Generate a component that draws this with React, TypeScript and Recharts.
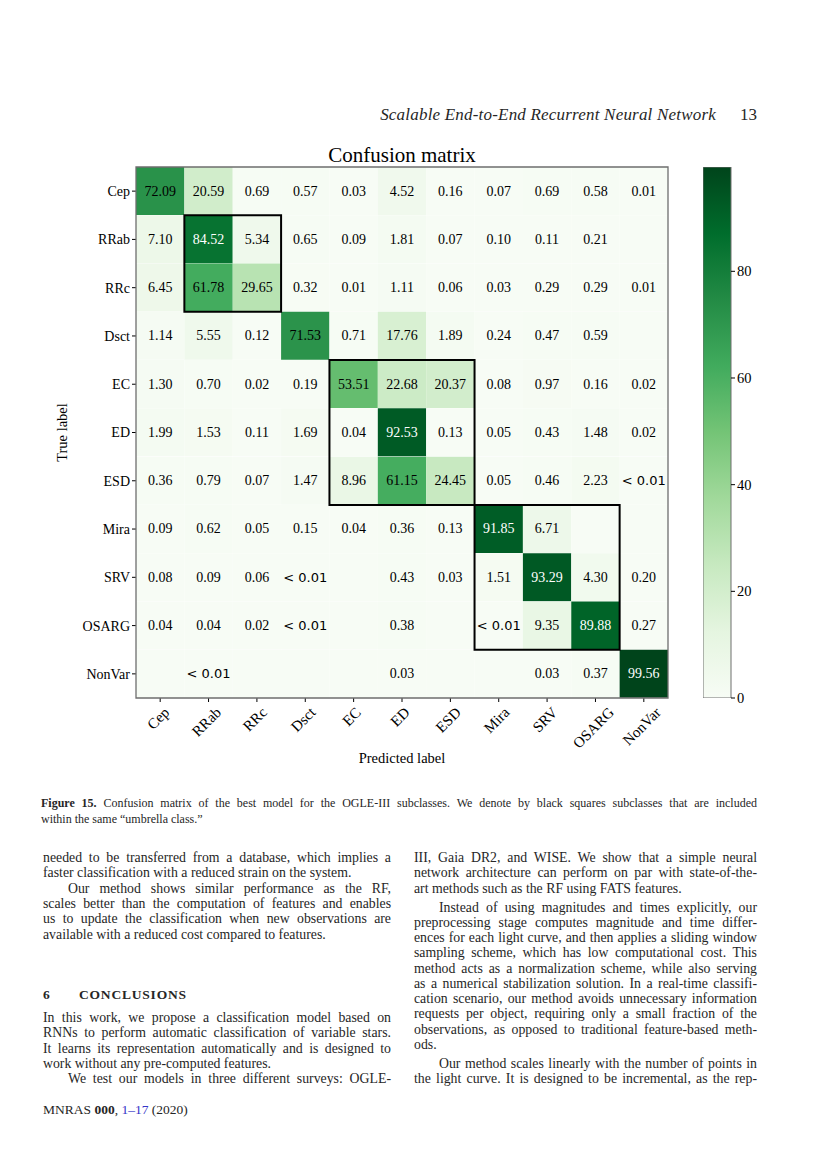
import React from 'react';
import { BarChart, Bar, XAxis, YAxis, Cell, LabelList, ReferenceArea } from 'recharts';

// ---------- data ----------
const trueLabels = ['Cep', 'RRab', 'RRc', 'Dsct', 'EC', 'ED', 'ESD', 'Mira', 'SRV', 'OSARG', 'NonVar'];
const predictedLabels = ['Cep', 'RRab', 'RRc', 'Dsct', 'EC', 'ED', 'ESD', 'Mira', 'SRV', 'OSARG', 'NonVar'];

const LT = 0.004; // shown as "< 0.01"
const rowCep = [72.09, 20.59, 0.69, 0.57, 0.03, 4.52, 0.16, 0.07, 0.69, 0.58, 0.01];
const rowRRab = [7.1, 84.52, 5.34, 0.65, 0.09, 1.81, 0.07, 0.1, 0.11, 0.21, null];
const rowRRc = [6.45, 61.78, 29.65, 0.32, 0.01, 1.11, 0.06, 0.03, 0.29, 0.29, 0.01];
const rowDsct = [1.14, 5.55, 0.12, 71.53, 0.71, 17.76, 1.89, 0.24, 0.47, 0.59, null];
const rowEC = [1.3, 0.7, 0.02, 0.19, 53.51, 22.68, 20.37, 0.08, 0.97, 0.16, 0.02];
const rowED = [1.99, 1.53, 0.11, 1.69, 0.04, 92.53, 0.13, 0.05, 0.43, 1.48, 0.02];
const rowESD = [0.36, 0.79, 0.07, 1.47, 8.96, 61.15, 24.45, 0.05, 0.46, 2.23, LT];
const rowMira = [0.09, 0.62, 0.05, 0.15, 0.04, 0.36, 0.13, 91.85, 6.71, null, null];
const rowSRV = [0.08, 0.09, 0.06, LT, null, 0.43, 0.03, 1.51, 93.29, 4.3, 0.2];
const rowOSARG = [0.04, 0.04, 0.02, LT, null, 0.38, null, LT, 9.35, 89.88, 0.27];
const rowNonVar = [null, LT, null, null, null, 0.03, null, null, 0.03, 0.37, 99.56];
const matrixRows: (number | null)[][] = [rowCep, rowRRab, rowRRc, rowDsct, rowEC, rowED, rowESD, rowMira, rowSRV, rowOSARG, rowNonVar];

const umbrellaClasses = [['RRab', 'RRc'], ['EC', 'ED', 'ESD'], ['Mira', 'SRV', 'OSARG']];
const colorbarTicks = [0, 20, 40, 60, 80];
const colorMin = 0;
const colorMax = 99.56;
const whiteTextAbove = 80;

const greensStops = ['#f7fcf5', '#e5f5e0', '#c7e9c0', '#a1d99b', '#74c476', '#41ab5d', '#238b45', '#006d2c', '#00441b'];

// ---------- helpers ----------
const SERIF = '"Liberation Serif", "Times New Roman", serif';

function hexToRgb(h: string) {
  return [parseInt(h.slice(1, 3), 16), parseInt(h.slice(3, 5), 16), parseInt(h.slice(5, 7), 16)];
}
function greens(v: number | null) {
  const val = v == null ? colorMin : v;
  let t = (val - colorMin) / (colorMax - colorMin);
  t = Math.max(0, Math.min(1, t));
  const p = t * (greensStops.length - 1);
  const i = Math.min(greensStops.length - 2, Math.floor(p));
  const f = p - i;
  const a = hexToRgb(greensStops[i]);
  const b = hexToRgb(greensStops[i + 1]);
  const c = a.map((x, k) => Math.round(x + (b[k] - x) * f));
  return `rgb(${c[0]},${c[1]},${c[2]})`;
}

const chartData = trueLabels.map((name, i) => {
  const row: any = { name };
  predictedLabels.forEach((_, j) => {
    row['c' + j] = 1;
    row['v' + j] = matrixRows[i][j];
  });
  return row;
});

let measureCtx: any = null;
function measure(text: string, font: string) {
  if (!measureCtx) measureCtx = document.createElement('canvas').getContext('2d');
  measureCtx.font = font;
  return measureCtx.measureText(text).width;
}

const CellLabel = (props: any) => {
  const { x, y, width, height, value } = props;
  if (value === null || value === undefined || value === '') return null;
  const v = Number(value);
  const cx = Number(x) + Number(width) / 2;
  const cy = Number(y) + Number(height) / 2;
  const small = v < 0.01;
  return (
    <text
      x={cx}
      y={cy}
      textAnchor="middle"
      dominantBaseline="central"
      fill={v > whiteTextAbove ? '#ffffff' : '#000000'}
      style={{ fontFamily: small ? '"DejaVu Sans", sans-serif' : SERIF, fontSize: small ? 13 : 14 }}
    >
      {small ? '< 0.01' : v.toFixed(2)}
    </text>
  );
};

const XTick = (props: any) => {
  const { x, y, payload } = props;
  const idx = Math.floor(Number(payload.value));
  const label = predictedLabels[idx];
  if (!label) return null;
  const fs = 15;
  const w = measure(label, `${fs}px "Liberation Serif"`);
  const h = fs * 0.72;
  const half = (w + h) / (2 * Math.SQRT2);
  const cx = x - 2;
  const cy = y + 2 + half;
  return (
    <text
      x={cx}
      y={cy}
      textAnchor="middle"
      dominantBaseline="central"
      transform={`rotate(-45 ${cx} ${cy})`}
      fill="#000"
      style={{ fontFamily: SERIF, fontSize: fs }}
    >
      {label}
    </text>
  );
};

// ---------- page text ----------
type Ln = { t: React.ReactNode; y: number; j?: boolean; ind?: boolean };

const leftLines: Ln[] = [
  { t: 'needed to be transferred from a database, which implies a', y: 859, j: true },
  { t: 'faster classification with a reduced strain on the system.', y: 874 },
  { t: 'Our method shows similar performance as the RF,', y: 890, j: true, ind: true },
  { t: 'scales better than the computation of features and enables', y: 905, j: true },
  { t: 'us to update the classification when new observations are', y: 920, j: true },
  { t: 'available with a reduced cost compared to features.', y: 936 },
  { t: 'In this work, we propose a classification model based on', y: 1019, j: true },
  { t: 'RNNs to perform automatic classification of variable stars.', y: 1034, j: true },
  { t: 'It learns its representation automatically and is designed to', y: 1050, j: true },
  { t: 'work without any pre-computed features.', y: 1065 },
  { t: 'We test our models in three different surveys: OGLE-', y: 1080, j: true, ind: true },
];

const rightLines: Ln[] = [
  { t: 'III, Gaia DR2, and WISE. We show that a simple neural', y: 859, j: true },
  { t: 'network architecture can perform on par with state-of-the-', y: 874, j: true },
  { t: 'art methods such as the RF using FATS features.', y: 890 },
  { t: 'Instead of using magnitudes and times explicitly, our', y: 909, j: true, ind: true },
  { t: 'preprocessing stage computes magnitude and time differ-', y: 924, j: true },
  { t: 'ences for each light curve, and then applies a sliding window', y: 939, j: true },
  { t: 'sampling scheme, which has low computational cost. This', y: 954, j: true },
  { t: 'method acts as a normalization scheme, while also serving', y: 970, j: true },
  { t: 'as a numerical stabilization solution. In a real-time classifi-', y: 985, j: true },
  { t: 'cation scenario, our method avoids unnecessary information', y: 1000, j: true },
  { t: 'requests per object, requiring only a small fraction of the', y: 1015, j: true },
  { t: 'observations, as opposed to traditional feature-based meth-', y: 1031, j: true },
  { t: 'ods.', y: 1046 },
  { t: 'Our method scales linearly with the number of points in', y: 1065, j: true, ind: true },
  { t: 'the light curve. It is designed to be incremental, as the rep-', y: 1080, j: true },
];

const TEXT_COLOR = '#262626';

function Column({ lines, left, width, size }: { lines: Ln[]; left: number; width: number; size: number }) {
  return (
    <>
      {lines.map((l, i) => {
        const ind = l.ind ? 25 : 0;
        return (
          <div
            key={i}
            style={{
              position: 'absolute',
              left: left + ind,
              top: l.y - 10,
              width: width - ind,
              height: 18,
              lineHeight: '18px',
              fontSize: size,
              fontFamily: SERIF,
              color: TEXT_COLOR,
              whiteSpace: 'nowrap',
              textAlign: l.j ? 'justify' : 'left',
              textAlignLast: l.j ? 'justify' : 'left',
            } as any}
          >
            {l.t}
          </div>
        );
      })}
    </>
  );
}

export default function App() {
  const nCols = predictedLabels.length;
  return (
    <div style={{ position: 'absolute', left: 0, top: 0, width: 827, height: 1169, background: '#fff', overflow: 'hidden', fontFamily: SERIF }}>
      {/* running header */}
      <div style={{ position: 'absolute', left: 300, top: 104, width: 416, textAlign: 'right', fontSize: 17, lineHeight: '22px', fontStyle: 'italic', letterSpacing: 0.2, color: TEXT_COLOR }}>
        Scalable End-to-End Recurrent Neural Network
      </div>
      <div style={{ position: 'absolute', left: 700, top: 104, width: 57, textAlign: 'right', fontSize: 17, lineHeight: '22px', color: TEXT_COLOR }}>13</div>

      {/* title */}
      <div style={{ position: 'absolute', left: 136, top: 142, width: 532, textAlign: 'center', fontSize: 21, lineHeight: '26px', color: '#000' }}>
        Confusion matrix
      </div>

      {/* confusion matrix */}
      <div style={{ position: 'absolute', left: 40, top: 140 }}>
        <BarChart
          width={640}
          height={628}
          data={chartData}
          layout="vertical"
          barCategoryGap={0}
          barGap={0}
          margin={{ top: 27, right: 12, bottom: 0, left: 0 }}
        >
          <XAxis
            type="number"
            domain={[0, nCols]}
            ticks={predictedLabels.map((_, j) => j + 0.5)}
            interval={0}
            allowDataOverflow
            tick={<XTick />}
            tickSize={4}
            tickLine={{ stroke: '#000' }}
            axisLine={false}
            height={70}
            label={{ value: 'Predicted label', position: 'insideBottom', offset: 5, fill: '#000', fontSize: 14.5, fontFamily: SERIF }}
          />
          <YAxis
            type="category"
            dataKey="name"
            width={96}
            interval={0}
            tickSize={4}
            tickLine={{ stroke: '#000' }}
            axisLine={false}
            tick={{ fill: '#000', fontSize: 14, fontFamily: SERIF }}
            label={{ value: 'True label', angle: -90, position: 'insideLeft', offset: 22, fill: '#000', fontSize: 14.5, fontFamily: SERIF, style: { textAnchor: 'middle' } }}
          />
          {predictedLabels.map((p, j) => (
            <Bar key={p} dataKey={'c' + j} stackId="m" isAnimationActive={false}>
              {chartData.map((_, i) => (
                <Cell key={i} fill={greens(matrixRows[i][j])} />
              ))}
              <LabelList dataKey={'v' + j} content={CellLabel} />
            </Bar>
          ))}
          <ReferenceArea
            x1={0}
            x2={nCols}
            y1={trueLabels[0]}
            y2={trueLabels[trueLabels.length - 1]}
            fill="none"
            fillOpacity={0}
            stroke="#6e6e6e"
            strokeWidth={1.3}
            strokeOpacity={1}
            ifOverflow="visible"
            zIndex={1500}
          />
          {umbrellaClasses.map((g, k) => (
            <ReferenceArea
              key={k}
              x1={predictedLabels.indexOf(g[0])}
              x2={predictedLabels.indexOf(g[g.length - 1]) + 1}
              y1={g[0]}
              y2={g[g.length - 1]}
              fill="none"
              fillOpacity={0}
              stroke="#000"
              strokeWidth={2}
              strokeOpacity={1}
              ifOverflow="visible"
              zIndex={1500}
            />
          ))}
        </BarChart>
      </div>

      {/* colorbar */}
      <div style={{ position: 'absolute', left: 703, top: 157 }}>
        <BarChart width={70} height={551} data={[{ name: 'scale', v: colorMax }]} barCategoryGap={0} margin={{ top: 10, right: 0, bottom: 10, left: 0 }}>
          <defs>
            <linearGradient id="greensBar" x1="0" y1="1" x2="0" y2="0">
              {greensStops.map((c, k) => (
                <stop key={k} offset={`${(k / (greensStops.length - 1)) * 100}%`} stopColor={c} />
              ))}
            </linearGradient>
          </defs>
          <XAxis dataKey="name" hide />
          <YAxis
            orientation="right"
            type="number"
            domain={[colorMin, colorMax]}
            allowDataOverflow
            ticks={colorbarTicks}
            interval={0}
            width={42}
            tickSize={4}
            tickLine={{ stroke: '#000' }}
            axisLine={false}
            tick={{ fill: '#000', fontSize: 14.5, fontFamily: SERIF }}
          />
          <Bar dataKey="v" fill="url(#greensBar)" stroke="#6e6e6e" strokeWidth={1} isAnimationActive={false} />
        </BarChart>
      </div>

      {/* caption */}
      <div style={{ position: 'absolute', left: 41, top: 795, width: 716, fontSize: 12, lineHeight: '16px', color: TEXT_COLOR, whiteSpace: 'nowrap', textAlign: 'justify', textAlignLast: 'justify' } as any}>
        <b>Figure 15.</b> Confusion matrix of the best model for the OGLE-III subclasses. We denote by black squares subclasses that are included
      </div>
      <div style={{ position: 'absolute', left: 41, top: 811, width: 716, fontSize: 12, lineHeight: '16px', color: TEXT_COLOR }}>
        within the same “umbrella class.”
      </div>

      {/* body text */}
      <Column lines={leftLines} left={43} width={348} size={13.8} />
      <Column lines={rightLines} left={414} width={343} size={13.8} />

      {/* section heading */}
      <div style={{ position: 'absolute', left: 43, top: 985, fontSize: 13.5, lineHeight: '20px', fontWeight: 'bold', color: TEXT_COLOR }}>6</div>
      <div style={{ position: 'absolute', left: 79, top: 985, fontSize: 13.5, lineHeight: '20px', fontWeight: 'bold', letterSpacing: 0.8, color: TEXT_COLOR }}>CONCLUSIONS</div>

      {/* footer */}
      <div style={{ position: 'absolute', left: 43, top: 1101, fontSize: 13.5, lineHeight: '18px', color: TEXT_COLOR }}>
        MNRAS <b>000</b>, <span style={{ color: '#3535c8' }}>1–17</span> (2020)
      </div>
    </div>
  );
}
